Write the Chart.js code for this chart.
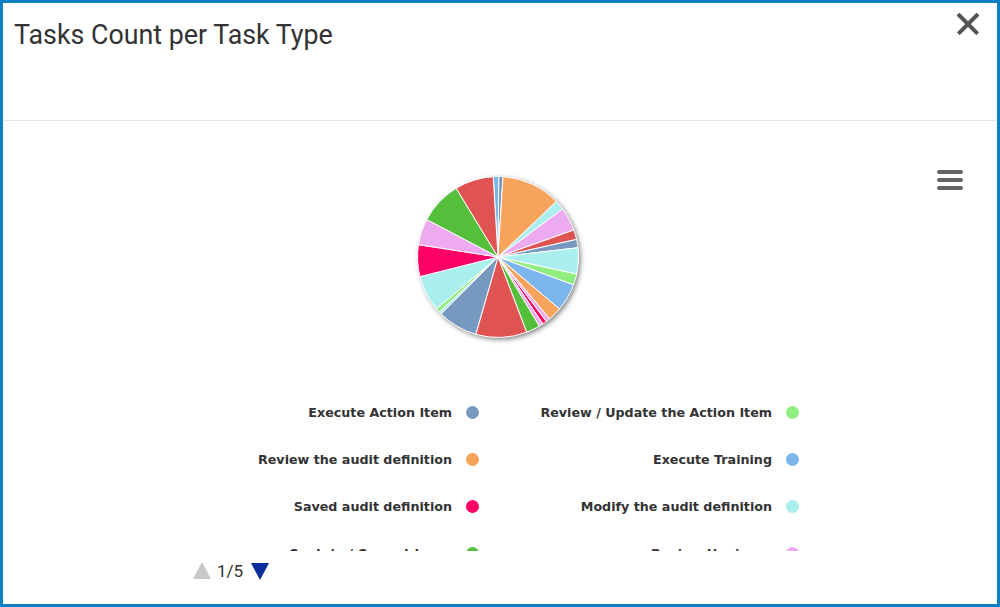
<!DOCTYPE html>
<html>
<head>
<meta charset="utf-8">
<script src="https://cdn.jsdelivr.net/npm/chart.js@4.4.1/dist/chart.umd.min.js"></script>
<style>
  html, body { margin: 0; padding: 0; background: #fff; }
  #frame { position: relative; width: 1000px; height: 607px; box-sizing: border-box; border: 3px solid #0c7fc4; overflow: hidden; background: #fff; }
  #title { position: absolute; left: 11px; top: 16px; font-family: Roboto, "Noto Sans", sans-serif; font-size: 26.8px; color: #333; white-space: nowrap; }
  #close { position: absolute; left: 953px; top: 9px; width: 24px; height: 24px; }
  #close div { position: absolute; left: -2px; top: 10px; width: 28px; height: 3.6px; background: #555; border-radius: 1px; }
  #sep { position: absolute; left: 0; top: 117px; width: 994px; height: 1px; background: #e6e6e6; }
  #burger { position: absolute; left: 934px; top: 167px; width: 26px; }
  #burger div { height: 4px; background: #666; border-radius: 2px; margin-bottom: 4px; }
  #pie { position: absolute; left: 395px; top: 154px; }
  #legend { position: absolute; left: -3px; top: 389px; width: 1000px; height: 159px; overflow: hidden; }
  .item { position: absolute; left: 0; height: 20px; line-height: 20px; text-align: right; white-space: nowrap;
          font-family: "DejaVu Sans", Verdana, sans-serif; font-weight: bold; font-size: 12.7px; color: #333; }
  .item .dot { display: inline-block; width: 13px; height: 13px; border-radius: 50%; margin-left: 14px; vertical-align: -2px; }
  #pager { position: absolute; left: 190px; top: 559px; height: 20px; }
  #up { position: absolute; left: 0; top: 0; width: 0; height: 0; border-left: 9px solid transparent; border-right: 9px solid transparent; border-bottom: 17px solid #c8c8c8; }
  #pnum { position: absolute; left: 24px; top: -1px; font-family: Roboto, Arial, sans-serif; font-size: 17px; color: #333; line-height: 20px; }
  #down { position: absolute; left: 58px; top: 1px; width: 0; height: 0; border-left: 9px solid transparent; border-right: 9px solid transparent; border-top: 17px solid #0a2d9c; }
</style>
</head>
<body>
<div id="frame">
  <div id="title">Tasks Count per Task Type</div>
  <div id="close"><div style="transform: rotate(45deg)"></div><div style="transform: rotate(-45deg)"></div></div>
  <div id="sep"></div>
  <div id="burger"><div></div><div></div><div></div></div>
  <canvas id="pie" width="200" height="200"></canvas>
  <div id="legend"></div>
  <div id="pager"><div id="up"></div><div id="pnum">1/5</div><div id="down"></div></div>
</div>
<script>
// Task types (pie slices, clockwise from the top)
const taskTypes = [
  "Approve Training",
  "Approve Action Item",
  "Review the audit definition",
  "Review Document",
  "Review the issue",
  "Close Issue",
  "Verify Effectiveness",
  "Modify the audit definition",
  "Review / Update the Action Item",
  "Execute Training",
  "Approve Audit Plan",
  "Review Audit Report",
  "Publish Document",
  "Approve Document",
  "Investigate Issue",
  "Assess Risk",
  "Execute Action Item",
  "Review Change Request",
  "Approve Change Request",
  "Execute Audit",
  "Saved audit definition",
  "Complete Checklist",
  "Contain / Correct Issue",
  "Perform Audit"
];
// Task counts per task type
const taskCounts = [4, 3, 43, 7, 17, 7, 6, 19, 8, 20, 10, 3, 3, 3, 10, 37, 29, 2, 3, 26, 23, 19, 31, 28];
// Legend page 1 of 5 (row by row, left then right)
const legendPage = [
  "Execute Action Item", "Review / Update the Action Item",
  "Review the audit definition", "Execute Training",
  "Saved audit definition", "Modify the audit definition",
  "Contain / Correct Issue", "Review the issue"
];
const pageLabel = "1/5";

// Styles
const sliceColors = [
  "#7cb5ec", "#7798BF", "#f7a35c", "#aaeeee", "#eeaaee", "#DF5353", "#7798BF", "#aaeeee",
  "#90ee7e", "#7cb5ec", "#f7a35c", "#eeaaee", "#ff0066", "#eeaaee", "#55BF3B", "#DF5353",
  "#7798BF", "#aaeeee", "#90ee7e", "#aaeeee", "#ff0066", "#eeaaee", "#55BF3B", "#DF5353"
];

const shadowPlugin = {
  id: 'pieShadow',
  beforeDatasetsDraw(chart) {
    const arc = chart.getDatasetMeta(0).data[0];
    if (!arc) return;
    const ctx = chart.ctx;
    ctx.save();
    ctx.shadowColor = 'rgba(0,0,0,0.5)';
    ctx.shadowBlur = 5;
    ctx.shadowOffsetX = 2;
    ctx.shadowOffsetY = 2;
    ctx.beginPath();
    ctx.arc(arc.x, arc.y, arc.outerRadius, 0, Math.PI * 2);
    ctx.fillStyle = '#fff';
    ctx.fill();
    ctx.restore();
  }
};

const chart = new Chart(document.getElementById('pie'), {
  type: 'pie',
  data: {
    labels: taskTypes,
    datasets: [{ data: taskCounts, backgroundColor: sliceColors, borderColor: '#ffffff', borderWidth: 1 }]
  },
  options: {
    responsive: false,
    animation: false,
    rotation: -3.4,
    layout: { padding: 19 },
    plugins: { legend: { display: false }, tooltip: { enabled: false } }
  },
  plugins: [shadowPlugin]
});

// HTML legend, built from the chart's own labels and colours
const legendEl = document.getElementById('legend');
legendPage.forEach((name, i) => {
  const idx = chart.data.labels.indexOf(name);
  const col = i % 2, row = Math.floor(i / 2);
  const item = document.createElement('div');
  item.className = 'item';
  item.style.width = (col === 0 ? 479 : 799) + 'px';
  item.style.top = (11 + row * 47) + 'px';
  const txt = document.createElement('span');
  txt.textContent = name;
  const dot = document.createElement('span');
  dot.className = 'dot';
  dot.style.background = chart.data.datasets[0].backgroundColor[idx];
  item.appendChild(txt);
  item.appendChild(dot);
  legendEl.appendChild(item);
});
document.getElementById('pnum').textContent = pageLabel;
</script>
</body>
</html>
